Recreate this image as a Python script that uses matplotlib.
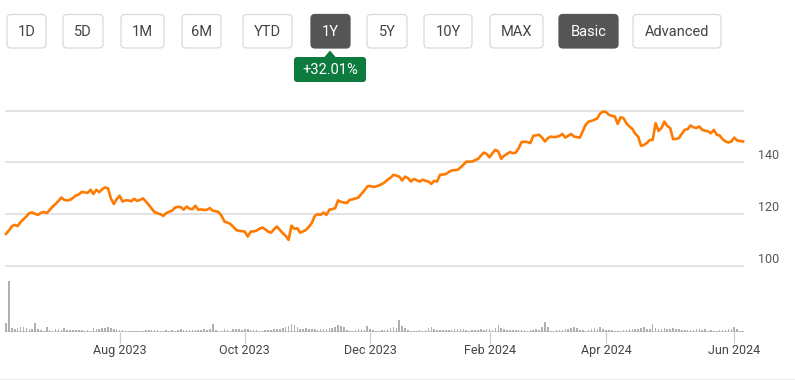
import matplotlib.pyplot as plt
from matplotlib.patches import FancyBboxPatch, Polygon
import pandas as pd

plt.rcParams['font.family'] = ['Roboto', 'DejaVu Sans']

# NYSE closures inside the 1Y window
NYSE_HOLIDAYS = ['2023-06-19', '2023-07-04', '2023-09-04', '2023-11-23', '2023-12-25',
                 '2024-01-01', '2024-01-15', '2024-02-19', '2024-03-29', '2024-05-27']
trade_days = pd.bdate_range('2023-06-05', '2024-06-06', freq='C', holidays=NYSE_HOLIDAYS)

# daily close
close = [
    112.2, 113.5, 115.2, 115.7, 115.3, 116.8, 117.9, 119.0, 120.3, 120.5,
    120.0, 119.6, 120.4, 120.7, 120.3, 121.5, 122.8, 123.8, 125.0, 126.3,
    125.4, 125.2, 125.4, 126.2, 127.1, 127.5, 128.5, 128.3, 128.1, 129.3,
    127.7, 129.3, 128.4, 129.5, 130.2, 129.9, 126.0, 123.8, 125.7, 127.0,
    124.8, 125.2, 125.2, 124.9, 125.8, 125.0, 125.4, 126.0, 124.8, 123.5,
    122.0, 120.7, 120.2, 119.9, 119.2, 120.3, 120.8, 121.2, 122.4, 122.7,
    122.6, 121.6, 122.8, 122.0, 121.8, 123.1, 121.6, 121.7, 121.5, 121.6,
    122.2, 121.2, 121.0, 120.7, 119.2, 117.0, 116.6, 116.1, 115.0, 113.8,
    113.4, 113.3, 113.1, 111.2, 113.1, 113.2, 113.5, 114.2, 114.7, 114.0,
    113.1, 112.7, 114.0, 115.1, 113.8, 112.5, 111.5, 109.9, 115.4, 114.2,
    114.4, 112.7, 113.2, 113.8, 115.0, 116.5, 119.2, 119.9, 119.6, 120.5,
    119.6, 121.6, 121.8, 122.2, 125.2, 124.6, 124.4, 124.2, 125.4, 125.6,
    126.0, 126.3, 127.7, 129.0, 130.6, 130.8, 130.4, 130.6, 131.0, 131.5,
    132.2, 133.2, 134.0, 135.1, 134.8, 134.4, 132.9, 134.4, 133.8, 132.5,
    133.5, 133.0, 132.5, 133.2, 132.8, 132.5, 131.6, 132.8, 132.5, 135.1,
    135.2, 135.4, 136.2, 136.8, 136.9, 137.0, 137.9, 139.0, 140.2, 140.2,
    140.2, 140.8, 141.2, 142.5, 143.7, 143.2, 141.9, 143.5, 144.8, 144.1,
    141.3, 142.5, 143.2, 143.9, 143.5, 143.7, 145.4, 147.8, 147.9, 147.8,
    147.4, 150.2, 150.4, 150.6, 149.5, 148.0, 149.3, 149.9, 149.7, 149.8,
    150.2, 150.9, 149.5, 150.2, 150.9, 149.9, 149.7, 149.5, 152.0, 154.5,
    155.7, 156.0, 156.4, 157.0, 158.9, 159.6, 159.4, 158.3, 157.9, 157.7,
    154.8, 157.4, 157.0, 155.0, 153.8, 152.9, 151.0, 149.9, 146.3, 146.7,
    147.4, 148.6, 148.6, 155.1, 152.1, 153.2, 155.7, 154.0, 153.2, 148.9,
    149.0, 149.3, 151.0, 152.5, 152.8, 154.2, 153.5, 153.2, 153.8, 152.5,
    152.2, 151.9, 151.2, 152.5, 150.6, 150.3, 148.9, 148.0, 147.6, 148.0,
    149.5, 148.4, 148.2, 148.0,
]

# daily volume (relative units)
volume = [
    9, 51, 4, 3, 4, 5, 5, 4, 3, 3, 9, 3, 2, 1, 5, 2, 1, 3, 3, 2,
    4, 2, 2, 2, 2, 2, 2, 1, 2, 1, 4, 3, 3, 4, 4, 5, 4, 3, 3, 2,
    2, 1, 1, 1, 1, 1, 1, 1, 2, 2, 2, 2, 2, 1, 1, 2, 1, 2, 1, 2,
    3, 2, 2, 2, 2, 2, 2, 2, 3, 2, 3, 8, 2, 1, 1, 3, 2, 1, 3, 3,
    3, 2, 3, 3, 2, 2, 2, 1, 1, 2, 2, 2, 3, 3, 3, 4, 5, 6, 8, 7,
    5, 3, 3, 4, 3, 3, 3, 2, 3, 3, 3, 4, 4, 5, 7, 6, 5, 2, 1, 1,
    2, 3, 3, 2, 6, 3, 2, 1, 1, 2, 2, 3, 4, 5, 4, 12, 6, 4, 2, 1,
    1, 1, 2, 1, 2, 4, 5, 3, 2, 2, 2, 2, 2, 2, 3, 3, 3, 3, 2, 1,
    2, 2, 2, 3, 2, 3, 3, 2, 4, 7, 4, 3, 2, 2, 2, 2, 2, 2, 2, 1,
    2, 2, 3, 2, 5, 10, 5, 1, 1, 2, 2, 2, 3, 3, 4, 5, 4, 2, 2, 1,
    2, 3, 4, 3, 5, 3, 2, 2, 2, 1, 1, 1, 2, 2, 3, 3, 3, 3, 4, 5,
    3, 3, 8, 4, 3, 3, 4, 3, 3, 4, 3, 3, 2, 2, 2, 2, 2, 3, 3, 2,
    3, 1, 2, 1, 1, 2, 2, 2, 3, 3, 5, 3, 1, 1,
]

tick_months = ['2023-08', '2023-10', '2023-12', '2024-02', '2024-04', '2024-06']
price_ticks = [100, 120, 140]
price_grid = [100, 120, 140, 160]

range_buttons = ['1D', '5D', '1M', '6M', 'YTD', '1Y', '5Y', '10Y', 'MAX', 'Basic', 'Advanced']
active_buttons = ['1Y', 'Basic']
change_text = '+32.01%'

# layout (pixels)
W, H = 795, 380
btn_left = [7, 63, 121, 182, 243, 311, 367, 424, 490, 559, 633]
btn_width = [39, 40, 43, 39, 49, 39, 40, 48, 53, 59, 88]

ORANGE = '#ff7a00'
GRID = '#dadada'

fig = plt.figure(figsize=(W / 100, H / 100), dpi=100)


def px_axes(left, top, right, bottom):
    return fig.add_axes([left / W, 1 - bottom / H, (right - left) / W, (bottom - top) / H])


n = len(close)
x = list(range(n))

# price panel
ax = px_axes(6, 110.5, 743, 265.5)
ax.set_xlim(0, n - 1)
ax.set_ylim(100, 160)
for g in price_grid:
    ax.axhline(g, color=GRID, lw=1.1, zorder=1, clip_on=False)
ax.plot(x, close, color=ORANGE, lw=1.9, solid_joinstyle='round', zorder=3, clip_on=False)
for p in price_ticks:
    ax.annotate(str(p), xy=(1, p), xycoords=('axes fraction', 'data'),
                xytext=(10.5, 4.6), textcoords='offset points',
                ha='left', va='center', fontsize=9, color='#555')
ax.set_xticks([])
ax.set_yticks([])
for s in ax.spines.values():
    s.set_visible(False)
ax.patch.set_visible(False)

# volume panel
vax = px_axes(6, 279.5, 743, 331.5)
vax.set_xlim(0, n - 1)
vax.set_ylim(0, 52)
vax.bar(x, volume, width=0.55, color='#b0b0b0', clip_on=False, zorder=2)
vax.axhline(0, color='#d0d0d0', lw=1.4, zorder=1)
tick_idx = [int((trade_days >= pd.Timestamp(m + '-01')).argmax()) for m in tick_months]
tick_lbl = [pd.Timestamp(m + '-01').strftime('%b %Y') for m in tick_months]
vax.set_xticks(tick_idx, tick_lbl)
vax.tick_params(axis='x', direction='out', length=7.6, width=0.9, color='#cccccc',
                pad=1.5, labelsize=9, labelcolor='#444')
vax.set_yticks([])
for s in vax.spines.values():
    s.set_visible(False)
vax.patch.set_visible(False)

# range selector buttons and change badge
ui = fig.add_axes([0, 0, 1, 1], zorder=5)
ui.set_xlim(0, W)
ui.set_ylim(H, 0)
ui.axis('off')
ui.patch.set_visible(False)

for lbl, bx, bw in zip(range_buttons, btn_left, btn_width):
    on = lbl in active_buttons
    ui.add_patch(FancyBboxPatch((bx, 14.5), bw, 33.5,
                                boxstyle='round,pad=0,rounding_size=4',
                                fc='#555555' if on else 'white',
                                ec='#555555' if on else '#d9d9d9', lw=0.9))
    ui.text(bx + bw / 2, 31.5, lbl, ha='center', va='center', fontsize=10.5,
            color='white' if on else '#444')

ui.add_patch(FancyBboxPatch((294, 57), 72, 25, boxstyle='round,pad=0,rounding_size=3',
                            fc='#0d7a3e', ec='none'))
ui.add_patch(Polygon([(324, 57.5), (330, 50.5), (336, 57.5)], closed=True,
                     fc='#0d7a3e', ec='none'))
ui.text(330, 69.5, change_text, ha='center', va='center', fontsize=10.5, color='white')

ui.plot([0, W], [379, 379], color='#eeeeee', lw=1)

fig.savefig('out.png', dpi=100)
